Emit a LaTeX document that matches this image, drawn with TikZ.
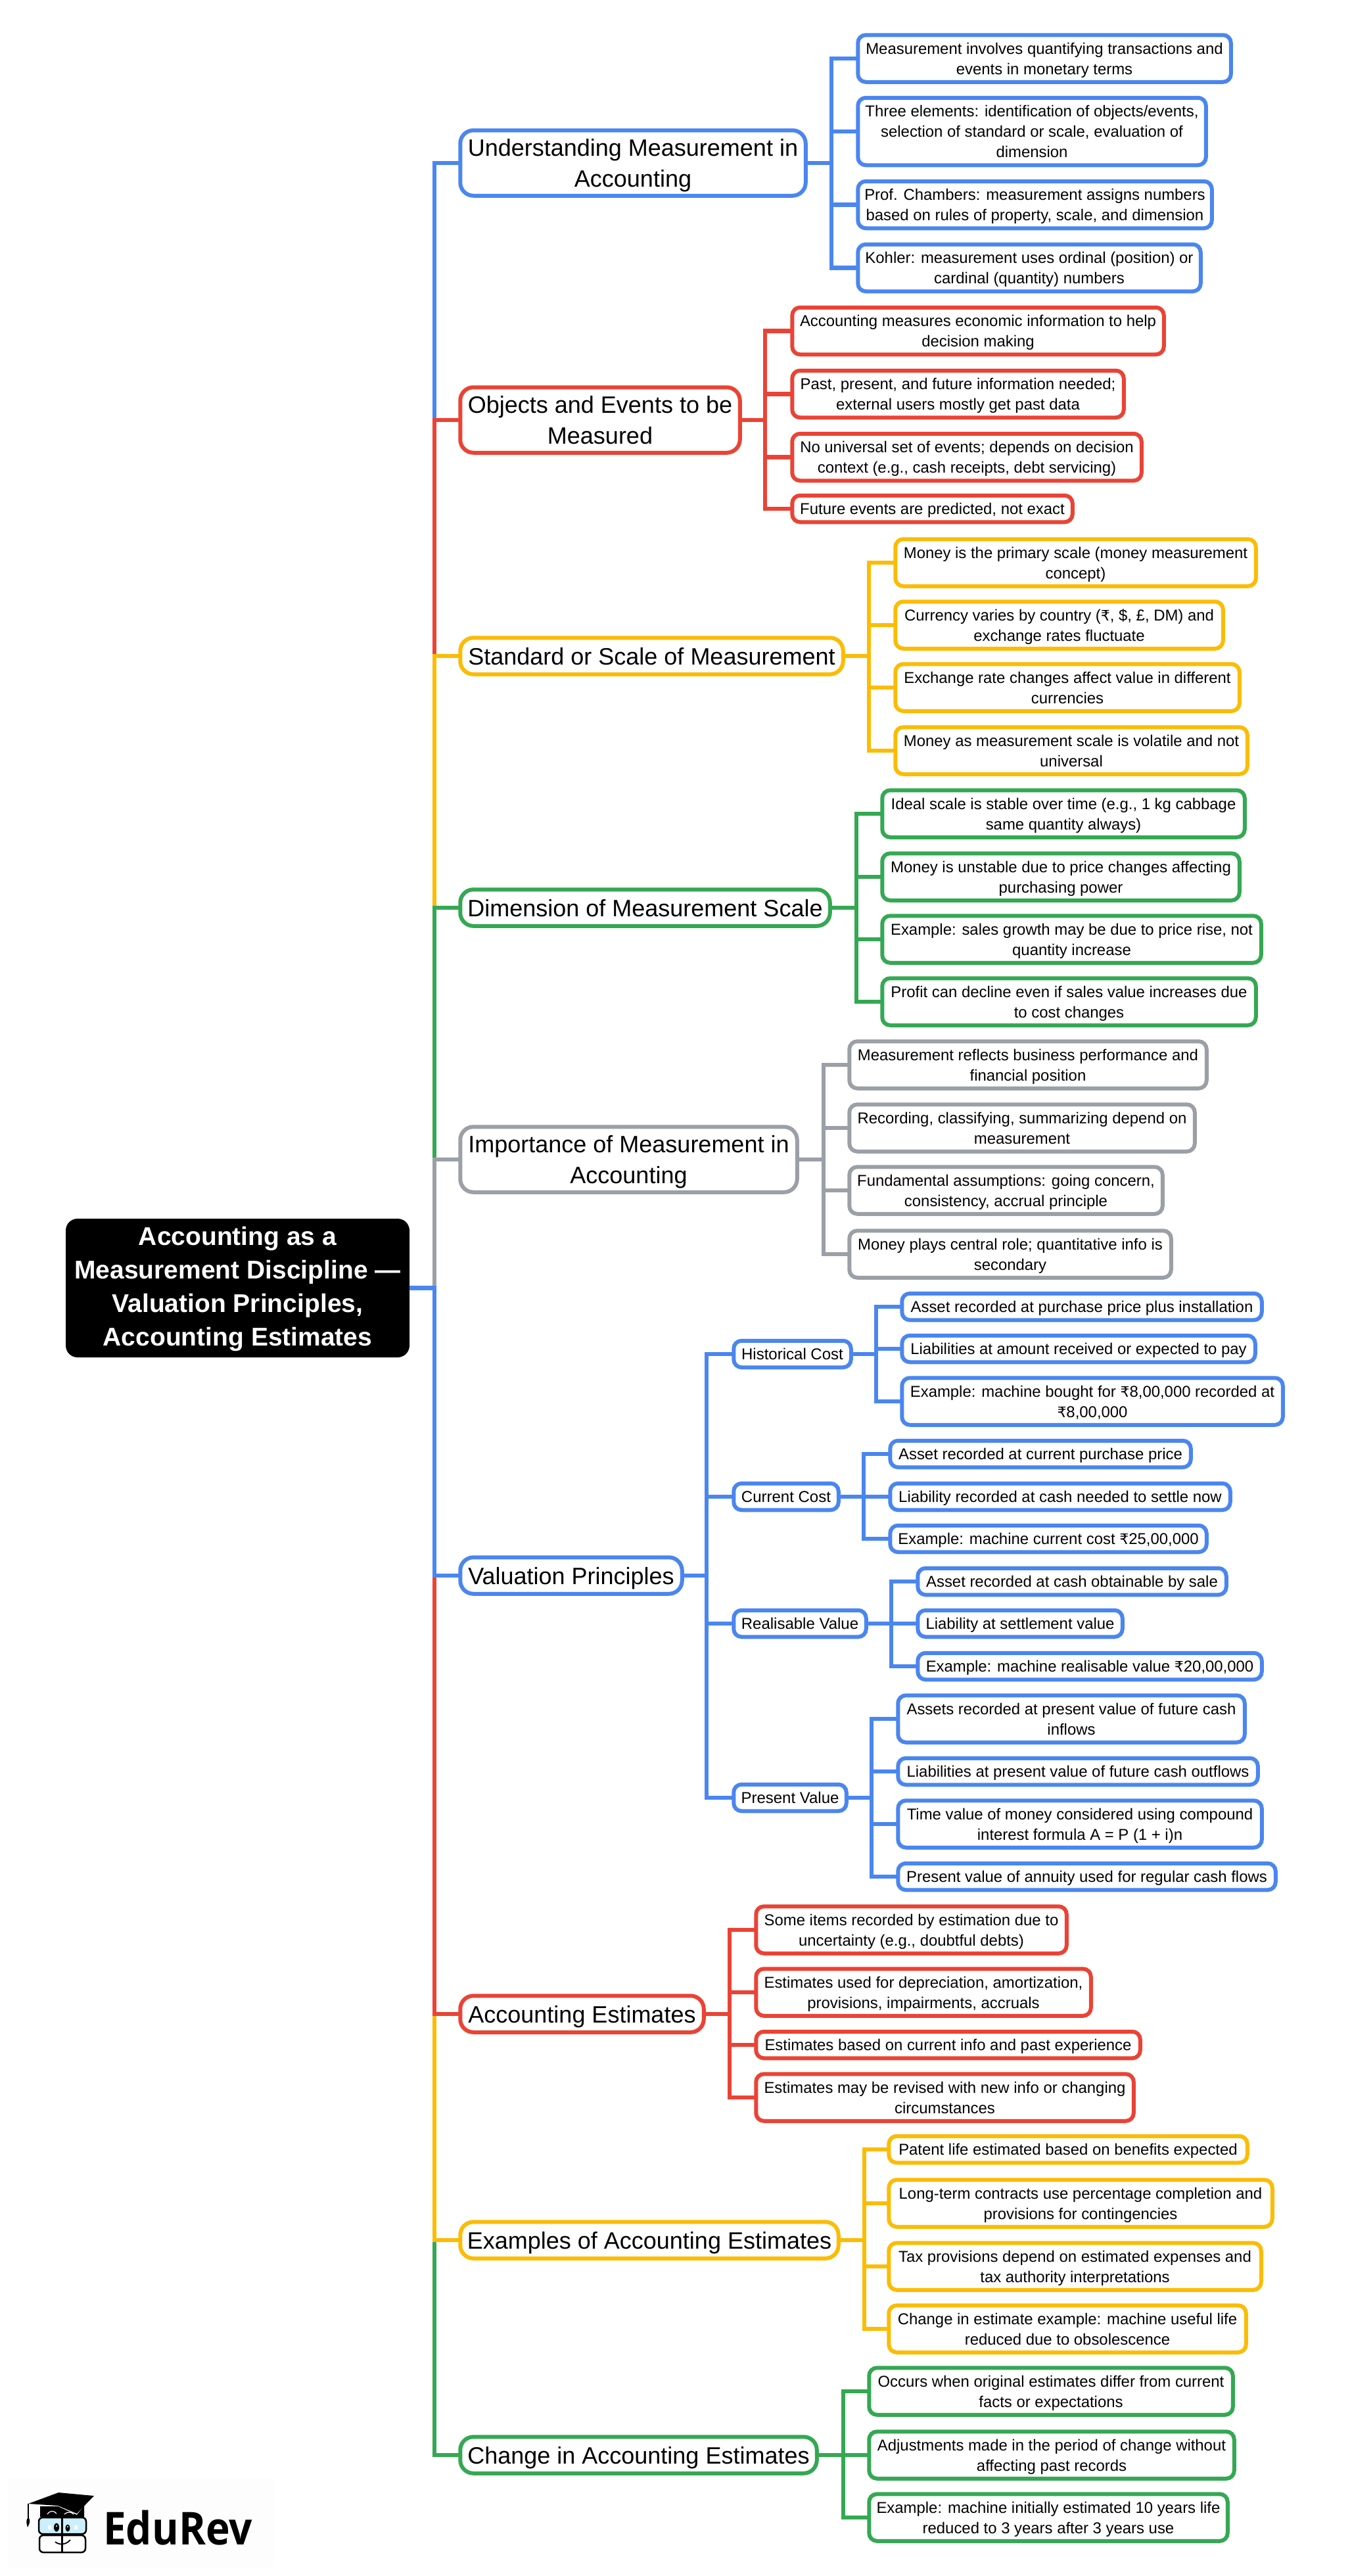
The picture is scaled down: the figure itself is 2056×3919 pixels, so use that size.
\documentclass[tikz,border=0pt]{standalone}
\usepackage{fontspec}
\setmainfont{Liberation Sans}
\newfontfamily\logofont{Open Sans}
\newfontfamily\rupeefont[Scale=0.92]{DejaVu Sans}
\newcommand{\rs}{{\rupeefont ₹}}
\definecolor{cblue}{HTML}{4A86F0}
\definecolor{cred}{HTML}{EA4335}
\definecolor{cyel}{HTML}{FBBC04}
\definecolor{cgrn}{HTML}{34A853}
\definecolor{cgry}{HTML}{9AA0A6}
\tikzset{
  boxbase/.style={draw=#1,fill=white,line width=6pt,align=center,inner sep=0pt,outer sep=0pt,text=black},
  leafbox/.style={boxbase=#1,rounded corners=12pt,text depth=-1pt,font=\fontsize{23.9}{31}\selectfont},
  subbox/.style={boxbase=#1,rounded corners=12pt,text depth=-1pt,font=\fontsize{24}{31}\selectfont},
  topicbox/.style={boxbase=#1,rounded corners=20pt,text depth=-1pt,font=\fontsize{36}{47}\selectfont},
  rootbox/.style={fill=black,text=white,rounded corners=18pt,align=center,inner sep=0pt,outer sep=0pt,text depth=5pt,font=\fontsize{39}{51}\selectfont\bfseries},
  link/.style={draw=#1,line width=6.5pt,line join=miter}
}
% name, left, right, centre y, height, colour, text, style
\newcommand{\bx}[8]{\node[#8=#6,minimum width={#3-#2-4.5},minimum height={#5-4.5},anchor=center] (#1) at ({(#2+#3)/2},#4) {#7};}
\newcommand{\conn}[4]{\draw[link=#1] (#2.east) -- (#2.east -| #4) |- (#3.west);}
\begin{document}
\begin{tikzpicture}[x=1pt,y=-1pt]
\useasboundingbox (0,0) rectangle (2056,3919);
\fill[white] (0,0) rectangle (2056,3919);
% spine coordinates
\coordinate (s0) at (661,0);
\coordinate (j1) at (1265,0);
\coordinate (j2) at (1164,0);
\coordinate (j3) at (1322,0);
\coordinate (j4) at (1303,0);
\coordinate (j5) at (1253,0);
\coordinate (j6) at (1075,0);
\coordinate (j61) at (1333,0);
\coordinate (j62) at (1314,0);
\coordinate (j63) at (1356,0);
\coordinate (j64) at (1326,0);
\coordinate (j7) at (1110,0);
\coordinate (j8) at (1315,0);
\coordinate (j9) at (1283,0);
% root
\node[rootbox,minimum width=523,minimum height=211] (root) at (361.5,1959.5) {Accounting as a\\Measurement Discipline —\\Valuation Principles,\\Accounting Estimates};
% topics
\bx{t1}{698}{1228}{248}{104}{cblue}{Understanding Measurement in\\Accounting}{topicbox}
\bx{t2}{698}{1128}{639}{104}{cred}{Objects and Events to be\\Measured}{topicbox}
\bx{t3}{698}{1285}{998}{60}{cyel}{Standard or Scale of Measurement}{topicbox}
\bx{t4}{698}{1265}{1381}{60}{cgrn}{Dimension of Measurement Scale}{topicbox}
\bx{t5}{698}{1215}{1764}{104}{cgry}{Importance of Measurement in\\Accounting}{topicbox}
\bx{t6}{698}{1040}{2397}{60}{cblue}{Valuation Principles}{topicbox}
\bx{t7}{698}{1073}{3064}{60}{cred}{Accounting Estimates}{topicbox}
\bx{t8}{698}{1278}{3408}{60}{cyel}{Examples of Accounting Estimates}{topicbox}
\bx{t9}{698}{1245}{3735}{60}{cgrn}{Change in Accounting Estimates}{topicbox}
% topic 1
\bx{a1}{1303}{1875}{89}{76}{cblue}{Measurement involves quantifying transactions and\\events in monetary terms}{leafbox}
\bx{a2}{1303}{1837}{200}{107}{cblue}{Three elements: identification of objects/events,\\selection of standard or scale, evaluation of\\dimension}{leafbox}
\bx{a3}{1303}{1846}{311.5}{76}{cblue}{Prof. Chambers: measurement assigns numbers\\based on rules of property, scale, and dimension}{leafbox}
\bx{a4}{1303}{1829}{407.5}{76}{cblue}{Kohler: measurement uses ordinal (position) or\\cardinal (quantity) numbers}{leafbox}
% topic 2
\bx{b1}{1203}{1773}{503.5}{76}{cred}{Accounting measures economic information to help\\decision making}{leafbox}
\bx{b2}{1203}{1712}{599.5}{76}{cred}{Past, present, and future information needed;\\external users mostly get past data}{leafbox}
\bx{b3}{1203}{1739}{695.5}{76}{cred}{No universal set of events; depends on decision\\context (e.g., cash receipts, debt servicing)}{leafbox}
\bx{b4}{1203}{1634}{774}{45}{cred}{Future events are predicted, not exact}{leafbox}
% topic 3
\bx{c1}{1360}{1913}{856}{76}{cyel}{Money is the primary scale (money measurement\\concept)}{leafbox}
\bx{c2}{1360}{1863}{951}{76}{cyel}{Currency varies by country (\rs, \$, £, DM) and\\exchange rates fluctuate}{leafbox}
\bx{c3}{1360}{1888}{1046}{76}{cyel}{Exchange rate changes affect value in different\\currencies}{leafbox}
\bx{c4}{1360}{1900}{1142}{76}{cyel}{Money as measurement scale is volatile and not\\universal}{leafbox}
% topic 4
\bx{d1}{1340}{1896}{1238}{76}{cgrn}{Ideal scale is stable over time (e.g., 1 kg cabbage\\same quantity always)}{leafbox}
\bx{d2}{1340}{1888}{1334}{76}{cgrn}{Money is unstable due to price changes affecting\\purchasing power}{leafbox}
\bx{d3}{1340}{1921}{1429}{76}{cgrn}{Example: sales growth may be due to price rise, not\\quantity increase}{leafbox}
\bx{d4}{1340}{1913}{1524}{76}{cgrn}{Profit can decline even if sales value increases due\\to cost changes}{leafbox}
% topic 5
\bx{e1}{1290}{1838}{1620}{76}{cgry}{Measurement reflects business performance and\\financial position}{leafbox}
\bx{e2}{1290}{1820}{1716}{76}{cgry}{Recording, classifying, summarizing depend on\\measurement}{leafbox}
\bx{e3}{1290}{1771}{1811}{76}{cgry}{Fundamental assumptions: going concern,\\consistency, accrual principle}{leafbox}
\bx{e4}{1290}{1784}{1908}{76}{cgry}{Money plays central role; quantitative info is\\secondary}{leafbox}
% topic 6 sub
\bx{f1}{1114}{1297}{2060}{45}{cblue}{Historical Cost}{subbox}
\bx{f2}{1114}{1278}{2277}{45}{cblue}{Current Cost}{subbox}
\bx{f3}{1114}{1320}{2470}{45}{cblue}{Realisable Value}{subbox}
\bx{f4}{1114}{1290}{2735}{45}{cblue}{Present Value}{subbox}
\bx{g1}{1370}{1922}{1988}{45}{cblue}{Asset recorded at purchase price plus installation}{leafbox}
\bx{g2}{1370}{1912}{2052}{45}{cblue}{Liabilities at amount received or expected to pay}{leafbox}
\bx{g3}{1370}{1954}{2132}{76}{cblue}{Example: machine bought for \rs8,00,000 recorded at\\\rs8,00,000}{leafbox}
\bx{h1}{1352}{1814}{2212}{45}{cblue}{Asset recorded at current purchase price}{leafbox}
\bx{h2}{1352}{1874}{2277}{45}{cblue}{Liability recorded at cash needed to settle now}{leafbox}
\bx{h3}{1352}{1838}{2341}{45}{cblue}{Example: machine current cost \rs25,00,000}{leafbox}
\bx{i1}{1394}{1868}{2406}{45}{cblue}{Asset recorded at cash obtainable by sale}{leafbox}
\bx{i2}{1394}{1710}{2470}{45}{cblue}{Liability at settlement value}{leafbox}
\bx{i3}{1394}{1922}{2535}{45}{cblue}{Example: machine realisable value \rs20,00,000}{leafbox}
\bx{k1}{1364}{1896}{2615}{76}{cblue}{Assets recorded at present value of future cash\\inflows}{leafbox}
\bx{k2}{1364}{1916}{2695}{45}{cblue}{Liabilities at present value of future cash outflows}{leafbox}
\bx{k3}{1364}{1922}{2775}{76}{cblue}{Time value of money considered using compound\\interest formula A = P (1 + i)n}{leafbox}
\bx{k4}{1364}{1943}{2855}{45}{cblue}{Present value of annuity used for regular cash flows}{leafbox}
% topic 7
\bx{m1}{1148}{1625}{2936}{76}{cred}{Some items recorded by estimation due to\\uncertainty (e.g., doubtful debts)}{leafbox}
\bx{m2}{1148}{1662}{3031}{76}{cred}{Estimates used for depreciation, amortization,\\provisions, impairments, accruals}{leafbox}
\bx{m3}{1148}{1737}{3111}{45}{cred}{Estimates based on current info and past experience}{leafbox}
\bx{m4}{1148}{1727}{3191}{76}{cred}{Estimates may be revised with new info or changing\\circumstances}{leafbox}
% topic 8
\bx{n1}{1350}{1900}{3270}{45}{cyel}{Patent life estimated based on benefits expected}{leafbox}
\bx{n2}{1350}{1938}{3352}{76}{cyel}{Long-term contracts use percentage completion and\\provisions for contingencies}{leafbox}
\bx{n3}{1350}{1921}{3448}{76}{cyel}{Tax provisions depend on estimated expenses and\\tax authority interpretations}{leafbox}
\bx{n4}{1350}{1898}{3543}{76}{cyel}{Change in estimate example: machine useful life\\reduced due to obsolescence}{leafbox}
% topic 9
\bx{p1}{1320}{1878}{3638}{76}{cgrn}{Occurs when original estimates differ from current\\facts or expectations}{leafbox}
\bx{p2}{1320}{1880}{3735}{76}{cgrn}{Adjustments made in the period of change without\\affecting past records}{leafbox}
\bx{p3}{1320}{1870}{3830}{76}{cgrn}{Example: machine initially estimated 10 years life\\reduced to 3 years after 3 years use}{leafbox}
% connectors from root
\conn{cblue}{root}{t1}{s0}
\conn{cred}{root}{t2}{s0}
\conn{cyel}{root}{t3}{s0}
\conn{cgrn}{root}{t4}{s0}
\conn{cgry}{root}{t5}{s0}
\conn{cgrn}{root}{t9}{s0}
\conn{cyel}{root}{t8}{s0}
\conn{cred}{root}{t7}{s0}
\conn{cblue}{root}{t6}{s0}
% connectors from topics
\foreach \l in {a1,a2,a3,a4}{\conn{cblue}{t1}{\l}{j1}}
\foreach \l in {b1,b2,b3,b4}{\conn{cred}{t2}{\l}{j2}}
\foreach \l in {c1,c2,c3,c4}{\conn{cyel}{t3}{\l}{j3}}
\foreach \l in {d1,d2,d3,d4}{\conn{cgrn}{t4}{\l}{j4}}
\foreach \l in {e1,e2,e3,e4}{\conn{cgry}{t5}{\l}{j5}}
\foreach \l in {f1,f2,f3,f4}{\conn{cblue}{t6}{\l}{j6}}
\foreach \l in {g1,g2,g3}{\conn{cblue}{f1}{\l}{j61}}
\foreach \l in {h1,h2,h3}{\conn{cblue}{f2}{\l}{j62}}
\foreach \l in {i1,i2,i3}{\conn{cblue}{f3}{\l}{j63}}
\foreach \l in {k1,k2,k3,k4}{\conn{cblue}{f4}{\l}{j64}}
\foreach \l in {m1,m2,m3,m4}{\conn{cred}{t7}{\l}{j7}}
\foreach \l in {n1,n2,n3,n4}{\conn{cyel}{t8}{\l}{j8}}
\foreach \l in {p1,p2,p3}{\conn{cgrn}{t9}{\l}{j9}}
% logo
\fill[black!0.6!white] (13,3769) rectangle (418,3906);
\fill[black] (43,3809) -- (89,3792) -- (143,3797) -- (117,3824) -- (88,3812) -- cycle;
\fill[black] (61,3813) -- (88,3813) -- (117,3826) -- (128,3812) -- (128,3829) -- (61,3829) -- cycle;
\draw[white,line width=1.2pt] (72,3825) .. controls (76,3819) and (82,3819) .. (86,3824);
\draw[white,line width=1.2pt] (98,3825) .. controls (102,3821) and (108,3821) .. (112,3825);
\draw[black,line width=1.5pt] (43,3809) -- (43,3832);
\fill[black] (43,3830) .. controls (38,3835) and (41,3840) .. (42,3845) .. controls (44,3840) and (48,3835) .. (43,3830) -- cycle;
\draw[black,line width=2.5pt,fill=cyan!20!white,rounded corners=6pt] (59,3830) rectangle (131,3855);
\draw[black,line width=2.5pt,fill=white,rounded corners=6pt] (60,3857) -- (130,3857) -- (130,3883) -- (60,3883) -- cycle;
\draw[black,line width=2.5pt] (94.5,3830) -- (94.5,3884);
\fill[black] (86,3845) ellipse [x radius=4pt,y radius=6.5pt];
\fill[black] (103,3846) ellipse [x radius=3.5pt,y radius=5.5pt];
\fill[white] (86,3843) circle (1.2pt) (103,3844) circle (1.2pt);
\fill[white] (73,3842) rectangle (78,3848) (113,3842) rectangle (118,3848);
\draw[black,line width=1.8pt] (84,3867) .. controls (90,3872) and (100,3872) .. (107,3864);
\node[anchor=west,inner sep=0pt,xscale=0.9,font=\logofont\fontsize{69}{69}\selectfont\bfseries] (logo) at (157,3846) {EduRev};
\end{tikzpicture}
\end{document}
